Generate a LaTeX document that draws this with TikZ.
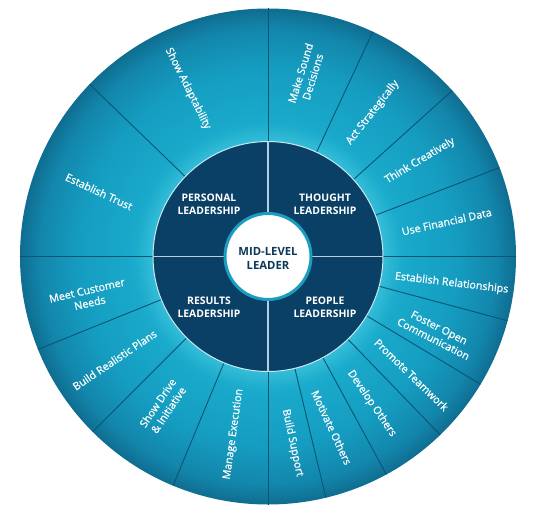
\documentclass[tikz,border=0pt]{standalone}
\usepackage{fontspec}
\setmainfont{Open Sans}
\newfontfamily\skillfont[FakeBold=0.7]{Open Sans}
\definecolor{ringglow}{HTML}{34BDD8}
\definecolor{ringlight}{HTML}{1AAACB}
\definecolor{ringmid}{HTML}{159DC1}
\definecolor{ringdark}{HTML}{1386AB}
\definecolor{ringedge}{HTML}{0F6D91}
\definecolor{navy}{HTML}{0B4066}
\definecolor{divline}{HTML}{0C5475}
\definecolor{crossline}{HTML}{B5CFDE}
\definecolor{centerring}{HTML}{1A9DC0}
\definecolor{centertext}{HTML}{0C3A5C}
\pgfdeclareradialshading{ringshade}{\pgfpoint{0bp}{0bp}}{color(0bp)=(ringglow); color(11.6bp)=(ringglow); color(13.5bp)=(ringlight); color(19bp)=(ringmid); color(23bp)=(ringdark); color(25bp)=(ringedge); color(50bp)=(ringedge)}
\begin{document}
\begin{tikzpicture}[x=1pt,y=1pt,
  divider/.style={draw=divline, line width=0.9pt},
  cross/.style={draw=crossline, line width=1.3pt},
  skill/.style={text=white, font=\skillfont\fontsize{10.7}{12.8}\selectfont, align=center, inner sep=0pt},
  quad/.style={text=white, font=\fontsize{10.4}{12.6}\selectfont\bfseries, align=center, inner sep=0pt},
  core/.style={text=centertext, font=\fontsize{11.3}{14}\selectfont\bfseries, align=center, inner sep=0pt}]
\useasboundingbox (-268,-260.5) rectangle (273,256.5);
% outer ring
\path[shading=ringshade] (0,0) circle (248);
% dividers in the outer ring
\foreach \a in {90,136,180,202,225,247.5,270,-76.5,-61.5,-46,-31,-15,0,21,42,65}
  \draw[divider] (\a:115) -- (\a:248);
% inner dark circle
\draw[fill=navy, draw=white!75!ringlight, line width=1pt] (0,0) circle (115);
% cross lines
\foreach \a in {0,90,180,270}
  \draw[cross] (\a:44) -- (\a:115);
% centre circle
\draw[fill=white, draw=centerring, line width=3pt] (0,0) circle (43);
\node[core] (centre) at (0,-2) {MID-LEVEL\\LEADER};
% quadrant labels
\node[quad] (personal) at (-59,52) {PERSONAL\\LEADERSHIP};
\node[quad] (thought) at (57,52) {THOUGHT\\LEADERSHIP};
\node[quad] (results) at (-59,-51) {RESULTS\\LEADERSHIP};
\node[quad] (people) at (57,-51) {PEOPLE\\LEADERSHIP};
% skill labels
\node[skill, rotate=-63.5] (s1) at (115.5:186) {Show Adaptability};
\node[skill, rotate=-25] (s2) at (159:181) {Establish Trust};
\node[skill, rotate=13] (s3) at (192.6:184) {Meet Customer\\Needs};
\node[skill, rotate=34] (s4) at (214:185) {Build Realistic Plans};
\node[skill, rotate=56] (s5) at (235:183) {Show Drive\\\& Initiative};
\node[skill, rotate=82] (s6) at (259:181) {Manage Execution};
\node[skill, rotate=-78] (s7) at (-82.5:188) {Build Support};
\node[skill, rotate=-65] (s8) at (-69.6:182.5) {Motivate Others};
\node[skill, rotate=-55.6] (s9) at (-54.8:180) {Develop Others};
\node[skill, rotate=-44] (s10) at (-39.5:186) {Promote Teamwork};
\node[skill, rotate=-27] (s11) at (-24.5:185) {Foster Open\\Communication};
\node[skill, rotate=-6.7] (s12) at (-8.3:185.6) {Establish Relationships};
\node[skill, rotate=12.5] (s13) at (11:182) {Use Financial Data};
\node[skill, rotate=31] (s14) at (32.2:179.6) {Think Creatively};
\node[skill, rotate=52] (s15) at (54:178) {Act Strategically};
\node[skill, rotate=73] (s16) at (78:185.6) {Make Sound\\Decisions};
\end{tikzpicture}
\end{document}
